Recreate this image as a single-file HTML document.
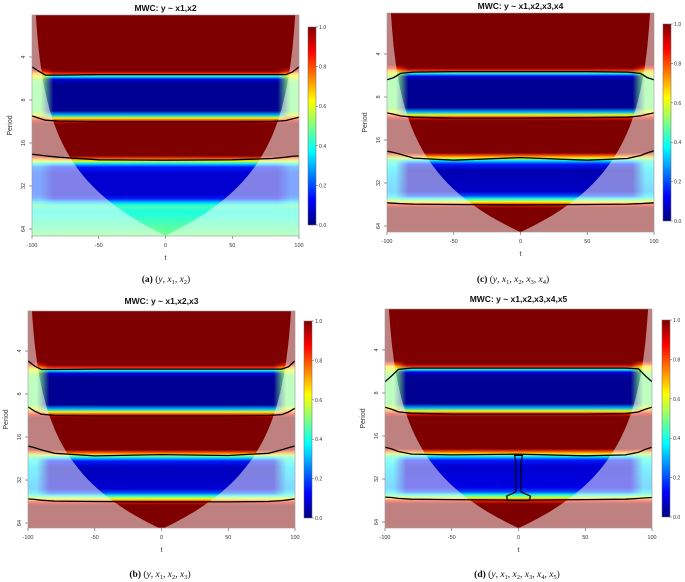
<!DOCTYPE html>
<html><head><meta charset="utf-8">
<style>
html,body{margin:0;padding:0;background:#fff;}
svg{display:block;font-family:"Liberation Sans",sans-serif;}
.cap{font-family:"Liberation Serif",serif;}
</style></head>
<body>
<svg id="fig" width="685" height="582" viewBox="0 0 685 582"></svg>
<script>
// ---------- data ----------
const tTicks=[-100,-50,0,50,100];
const periodTicks=[4,8,16,32,64];
const cbTicks=[0,0.2,0.4,0.6,0.8,1.0];
// log2(period) grid for coherence profiles
const profileLog=[1,2.25,2.33,2.38,2.45,2.52,2.6,3.25,3.35,3.42,3.48,3.55,4.25,4.3,4.36,4.42,4.48,4.56,4.7,5.2,5.3,5.37,5.44,5.5,5.58,6.2];
const aCenter=[1,1,1,0.85,0.4,0.1,0.02,0.02,0.3,0.6,0.85,1,1,1,0.8,0.6,0.35,0.15,0.08,0.08,0.15,0.3,0.4,0.45,0.4,0.5];
const aEdge=[1,1,0.85,0.7,0.62,0.55,0.5,0.5,0.6,0.75,0.9,1,1,0.95,0.75,0.6,0.4,0.25,0.2,0.2,0.25,0.35,0.45,0.45,0.4,0.5];
const bCenter=[1,1,1,0.85,0.4,0.1,0.02,0.02,0.3,0.6,0.85,1,1,1,0.8,0.6,0.35,0.15,0.06,0.08,0.2,0.4,0.62,0.85,1,1];
const bEdge=[1,1,0.85,0.7,0.6,0.55,0.5,0.5,0.6,0.75,0.9,1,1,0.95,0.75,0.55,0.45,0.4,0.35,0.3,0.35,0.45,0.62,0.85,1,1];
const cCenter=[1,1,1,0.85,0.4,0.1,0.02,0.02,0.3,0.6,0.85,1,1,1,0.8,0.6,0.35,0.15,0.05,0.07,0.2,0.4,0.62,0.85,1,1];
const cEdge=[1,1,0.85,0.7,0.6,0.55,0.5,0.5,0.6,0.75,0.9,1,1,0.95,0.75,0.55,0.45,0.4,0.35,0.3,0.35,0.45,0.62,0.85,1,1];
const dCenter=[1,1,1,0.85,0.4,0.1,0.02,0.02,0.3,0.6,0.85,1,1,1,0.8,0.6,0.35,0.15,0.08,0.1,0.2,0.4,0.6,0.85,1,1];
const dEdge=[1,1,0.8,0.65,0.6,0.55,0.5,0.5,0.6,0.75,0.9,1,1,0.95,0.75,0.55,0.45,0.4,0.35,0.3,0.35,0.45,0.62,0.85,1,1];
// contour lines: t positions and log2(period) values
const contourT=[-100,-95,-90,-80,-50,0,50,80,90,95,100];
const aC1=[2.23,2.33,2.42,2.42,2.41,2.41,2.41,2.41,2.41,2.35,2.23];
const aC2=[3.37,3.42,3.47,3.49,3.51,3.51,3.51,3.50,3.48,3.44,3.40];
const aC3=[4.26,4.28,4.30,4.33,4.39,4.40,4.39,4.36,4.33,4.31,4.30];
const bC1=[2.23,2.35,2.43,2.43,2.42,2.42,2.42,2.42,2.42,2.37,2.23];
const bC2=[3.30,3.40,3.47,3.50,3.51,3.51,3.51,3.50,3.48,3.42,3.33];
const bC3=[4.21,4.25,4.30,4.38,4.44,4.41,4.43,4.38,4.30,4.25,4.21];
const bC4=[5.44,5.45,5.47,5.49,5.50,5.51,5.51,5.50,5.48,5.46,5.44];
const cC1=[2.60,2.55,2.45,2.42,2.41,2.41,2.41,2.42,2.45,2.55,2.60];
const cC2=[3.37,3.40,3.44,3.47,3.49,3.49,3.48,3.47,3.44,3.40,3.37];
const cC3=[4.26,4.29,4.33,4.42,4.47,4.41,4.47,4.43,4.36,4.30,4.25];
const cC4=[5.46,5.47,5.48,5.49,5.50,5.51,5.50,5.49,5.48,5.47,5.46];
const dC1=[2.74,2.60,2.45,2.42,2.42,2.42,2.42,2.42,2.44,2.60,2.74];
const dC2=[3.33,3.38,3.44,3.47,3.49,3.49,3.49,3.48,3.44,3.38,3.33];
const dC3=[4.26,4.30,4.36,4.42,4.44,4.42,4.46,4.44,4.38,4.31,4.26];
const dC4=[5.42,5.43,5.45,5.47,5.48,5.49,5.48,5.47,5.45,5.44,5.43];
const dKinkT=[-3,3,2,2,9,8,-8,-9,-2,-2,-3];
const dKinkL=[4.45,4.45,4.6,5.3,5.4,5.5,5.5,5.4,5.3,4.6,4.45];

// ---------- helpers ----------
const NS="http://www.w3.org/2000/svg";
const svg=document.getElementById('fig');
function mk(tag,attrs,parent){const e=document.createElementNS(NS,tag);for(const k in attrs)e.setAttribute(k,attrs[k]);(parent||svg).appendChild(e);return e;}
const jetStops=['#00007F','#0000FF','#007FFF','#00FFFF','#7FFF7F','#FFFF00','#FF7F00','#FF0000','#7F0000'];
function hex(h){return [parseInt(h.substr(1,2),16),parseInt(h.substr(3,2),16),parseInt(h.substr(5,2),16)];}
function jet(v){v=Math.max(0,Math.min(1,v));const p=v*8,i=Math.min(7,Math.floor(p)),f=p-i;const a=hex(jetStops[i]),b=hex(jetStops[i+1]);return 'rgb('+a.map((c,k)=>Math.round(c+(b[k]-c)*f)).join(',')+')';}
const defs=mk('defs',{});

const panels=[
 {id:'a',L:32,R:299,T:15,B:236,y4:57,title:'MWC: y ~ x1,x2',cb:[308,27,316,225],center:aCenter,edge:aEdge,contours:[aC1,aC2,aC3],label:'(a)',sub:['1','2'],capX:166,capY:282,tY:11},
 {id:'c',L:387,R:654,T:13,B:232,y4:54,title:'MWC: y ~ x1,x2,x3,x4',cb:[663,24,671,221],center:cCenter,edge:cEdge,contours:[cC1,cC2,cC3,cC4],label:'(c)',sub:['1','2','3','4'],capX:513,capY:282,tY:9},
 {id:'b',L:28,R:295,T:311,B:528,y4:351,title:'MWC: y ~ x1,x2,x3',cb:[304,321,312,518],center:bCenter,edge:bEdge,contours:[bC1,bC2,bC3,bC4],label:'(b)',sub:['1','2','3'],capX:160,capY:577,tY:304},
 {id:'d',L:385,R:652,T:309,B:528,y4:350,title:'MWC: y ~ x1,x2,x3,x4,x5',cb:[662,320,670,517],center:dCenter,edge:dEdge,contours:[dC1,dC2,dC3,dC4],label:'(d)',sub:['1','2','3','4','5'],capX:517,capY:577,tY:302}
];

panels.forEach(P=>{
 const g=mk('g',{});
 
 
 const x=t=>P.L+(t+100)/200*(P.R-P.L);
 const y=l=>P.y4+(l-2)*43;
 const g0=profileLog[0],gN=profileLog[profileLog.length-1];
 ['center','edge'].forEach(kind=>{
  const lg=mk('linearGradient',{id:'gr-'+P.id+'-'+kind,gradientUnits:'userSpaceOnUse',x1:0,x2:0,y1:y(g0),y2:y(gN)},defs);
  profileLog.forEach((l,i)=>mk('stop',{offset:((l-g0)/(gN-g0)).toFixed(4),'stop-color':jet(P[kind][i])},lg));
 });
 mk('clipPath',{id:'clip-'+P.id},defs).appendChild(mk('rect',{x:P.L,y:P.T,width:P.R-P.L,height:P.B-P.T},defs));
 const mL=mk('linearGradient',{id:'mgL-'+P.id,x1:0,x2:1,y1:0,y2:0},defs);
 mk('stop',{offset:0,'stop-color':'#fff'},mL);mk('stop',{offset:0.4,'stop-color':'#fff'},mL);mk('stop',{offset:1,'stop-color':'#000'},mL);
 const mR=mk('linearGradient',{id:'mgR-'+P.id,x1:1,x2:0,y1:0,y2:0},defs);
 mk('stop',{offset:0,'stop-color':'#fff'},mR);mk('stop',{offset:0.4,'stop-color':'#fff'},mR);mk('stop',{offset:1,'stop-color':'#000'},mR);
 const mkL=mk('mask',{id:'mL-'+P.id},defs);mk('rect',{x:x(-100),y:P.T,width:x(-84)-x(-100),height:P.B-P.T,fill:'url(#mgL-'+P.id+')'},mkL);
 const mkR=mk('mask',{id:'mR-'+P.id},defs);mk('rect',{x:x(84),y:P.T,width:x(100)-x(84),height:P.B-P.T,fill:'url(#mgR-'+P.id+')'},mkR);

 const plot=mk('g',{'clip-path':'url(#clip-'+P.id+')'},g);
 
 
 mk('rect',{x:P.L,y:P.T,width:P.R-P.L,height:P.B-P.T,fill:'url(#gr-'+P.id+'-center)'},plot);
 mk('rect',{x:x(-100),y:P.T,width:x(-84)-x(-100),height:P.B-P.T,fill:'url(#gr-'+P.id+'-edge)',mask:'url(#mL-'+P.id+')'},plot);
 mk('rect',{x:x(84),y:P.T,width:x(100)-x(84),height:P.B-P.T,fill:'url(#gr-'+P.id+'-edge)',mask:'url(#mR-'+P.id+')'},plot);
 // cone of influence overlay
 const lTop=2+(P.T-P.y4)/43,lBot=2+(P.B-P.y4)/43;
 let left=[],right=[];
 for(let i=0;i<=40;i++){const l=lTop+(lBot-lTop)*i/40;const t=Math.max(0,100-Math.SQRT2*Math.pow(2,l));left.push([x(-t),y(l)]);right.push([x(t),y(l)]);}
 let cone='M'+left.map(p=>p[0].toFixed(1)+','+p[1].toFixed(1)).join('L')+'L'+right.reverse().map(p=>p[0].toFixed(1)+','+p[1].toFixed(1)).join('L')+'Z';
 const coi=mk('path',{d:'M'+P.L+','+P.T+'H'+P.R+'V'+P.B+'H'+P.L+'Z'+cone,fill:'#fff','fill-opacity':0.5,'fill-rule':'evenodd'},plot);
 
 
 // contours (on top of overlay)
 P.contours.forEach((arr,ci)=>{
  const d=contourT.map((t,i)=>(i?'L':'M')+x(t).toFixed(1)+','+y(arr[i]).toFixed(1)).join('');
  const c=mk('path',{d:d,fill:'none',stroke:'#000','stroke-width':1.3},plot);
  
  
 });
 if(P.id==='d'){
  const d=dKinkT.map((t,i)=>(i?'L':'M')+x(t).toFixed(1)+','+y(dKinkL[i]).toFixed(1)).join('')+'Z';
  const k=mk('path',{d:d,fill:'none',stroke:'#000','stroke-width':1.2},plot);
  
  
 }
 mk('rect',{x:P.L,y:P.T,width:P.R-P.L,height:P.B-P.T,fill:'none',stroke:'#999','stroke-width':0.6},g);
 const ti=mk('text',{x:(P.L+P.R)/2,y:P.tY,'text-anchor':'middle','font-size':8.5,'font-weight':'bold',fill:'#111'},g);
 ti.textContent=P.title;
 
 
 tTicks.forEach(t=>{
  mk('line',{x1:x(t),x2:x(t),y1:P.B,y2:P.B+3,stroke:'#555','stroke-width':0.6},g);
  const tx=mk('text',{x:x(t),y:P.B+11,'text-anchor':'middle','font-size':5.5,fill:'#333'},g);
  tx.textContent=t;
  
  
 });
 const xt=mk('text',{x:(P.L+P.R)/2,y:P.B+24,'text-anchor':'middle','font-size':7,fill:'#333'},g);
 xt.textContent='t';
 
 
 periodTicks.forEach(p=>{
  const yy=y(Math.log2(p));
  mk('line',{x1:P.L-3,x2:P.L,y1:yy,y2:yy,stroke:'#555','stroke-width':0.6},g);
  const tx=mk('text',{x:P.L-7,y:yy,'text-anchor':'middle','font-size':5.5,fill:'#333',transform:'rotate(-90 '+(P.L-7)+' '+yy+')'},g);
  tx.textContent=p;
  
  
 });
 const yt=mk('text',{x:P.L-20,y:(P.T+P.B)/2,'text-anchor':'middle','font-size':7,fill:'#333',transform:'rotate(-90 '+(P.L-20)+' '+(P.T+P.B)/2+')'},g);
 yt.textContent='Period';
 
 
 const [cx0,cy0,cx1,cy1]=P.cb;
 const cg=mk('linearGradient',{id:'cb-'+P.id,x1:0,x2:0,y1:1,y2:0},defs);
 jetStops.forEach((c,i)=>mk('stop',{offset:i/8,'stop-color':c},cg));
 const cbr=mk('rect',{x:cx0,y:cy0,width:cx1-cx0,height:cy1-cy0,fill:'url(#cb-'+P.id+')',stroke:'#666','stroke-width':0.5},g);
 
 
 cbTicks.forEach(v=>{
  const yy=cy1-v*(cy1-cy0);
  mk('line',{x1:cx1,x2:cx1+2,y1:yy,y2:yy,stroke:'#555','stroke-width':0.5},g);
  const tx=mk('text',{x:cx1+3,y:yy+2,'font-size':5.2,fill:'#333'},g);
  tx.textContent=v.toFixed(1);
  
  
 });
 const cap=mk('text',{x:P.capX,y:P.capY,'text-anchor':'middle','font-size':9.5,fill:'#111',class:'cap'},g);
 
 
 const lb=mk('tspan',{'font-weight':'bold'},cap);lb.textContent=P.label+' ';
 const o=mk('tspan',{},cap);o.textContent='(';
 const yv=mk('tspan',{'font-style':'italic'},cap);yv.textContent='y';
 let shifted=false;
 P.sub.forEach(s=>{
  const cm=mk('tspan',shifted?{dy:-2}:{},cap);cm.textContent=', ';
  const xv=mk('tspan',{'font-style':'italic'},cap);xv.textContent='x';
  const sb=mk('tspan',{'font-size':6.5,dy:2},cap);sb.textContent=s;
  shifted=true;
 });
 const cl=mk('tspan',{dy:-2},cap);cl.textContent=')';
});
</script>
</body></html>
